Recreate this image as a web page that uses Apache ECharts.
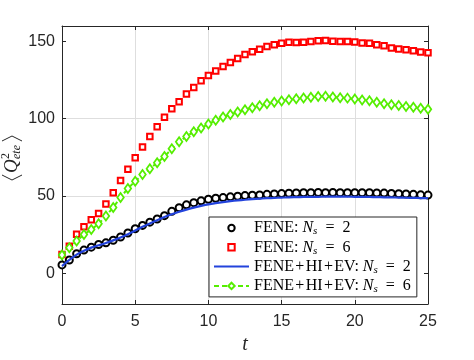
<!DOCTYPE html>
<html>
<head>
<meta charset="utf-8">
<script src="https://cdn.jsdelivr.net/npm/echarts@6/dist/echarts.min.js"></script>
<style>
html,body{margin:0;padding:0;background:#fff;}
#chart{width:474px;height:360px;}
</style>
</head>
<body>
<div id="chart"></div>
<script>
// time values
var tValues = [0,0.5,1,1.5,2,2.5,3,3.5,4,4.5,5,5.5,6,6.5,7,7.5,8,8.5,9,9.5,10,10.5,11,11.5,12,12.5,13,13.5,14,14.5,15,15.5,16,16.5,17,17.5,18,18.5,19,19.5,20,20.5,21,21.5,22,22.5,23,23.5,24,24.5,25];

// tick values
var xTicks = [0,5,10,15,20,25];
var yTicks = [0,50,100,150];

var seriesNames = ['FENE: N_s = 2','FENE: N_s = 6','FENE+HI+EV: N_s = 2','FENE+HI+EV: N_s = 6'];

var feneNs2 = [5.3,8.5,12.5,14.9,16.8,18.5,19.6,21.3,23.4,26,28.7,30.9,33,35,37.2,40,42.3,44.2,45.6,46.8,47.8,48.5,48.9,49.4,49.8,50.2,50.4,50.6,51,51.3,51.5,51.7,51.9,52,52.1,52.2,52.1,52.2,52.1,52.1,52.1,52,52,51.9,51.8,51.6,51.4,51.2,51,50.7,50.5];

var feneNs6 = [12,17.4,25.1,30,34.5,38.6,44.7,52.1,60,67.2,74.7,81.7,88.4,94.7,100.9,106.4,111,116,120.2,124.5,128,130.9,133.8,136.4,139,141.5,143.4,145,146.8,147.9,148.9,149.4,149.3,149.5,150,150.5,150.6,150.1,150,150,149.6,149,148.9,147.9,147.2,145.8,145.1,144.6,144,143.2,142.6];

var hiEvNs2 = [4.5,8.5,12,14.5,16.5,18,19.5,21.2,23,25.2,27.6,30,32.2,34.3,36.3,38.1,39.7,41.1,42.4,43.5,44.5,45.3,46,46.6,47.1,47.5,47.9,48.2,48.5,48.7,48.9,49.1,49.2,49.3,49.4,49.4,49.5,49.5,49.5,49.5,49.4,49.4,49.3,49.2,49.1,49,48.9,48.8,48.7,48.6,48.5];

var hiEvNs6 = [11.7,16.5,20.8,25,28.2,31.9,37,42.5,49,54.8,59.5,63.8,67.5,71.5,75.5,80.5,85,88.5,91.5,94,96.5,99,101,102.7,104.3,105.8,107.1,108.4,109.6,110.6,111.5,112.2,112.9,113.4,113.8,114.3,114.5,114,113.6,113.3,112.8,112.1,111.6,110.6,109.7,109,108.5,107.9,107.4,106.8,106.1];

function pairs(ys){ return tValues.map(function(t,i){ return [t, ys[i]]; }); }

var axisColor = '#262626';
var gridColor = '#dedede';
var tickFont = {fontFamily:'Liberation Sans', fontSize:16, color:axisColor};

var chart = echarts.init(document.getElementById('chart'), null, {renderer:'canvas'});

var option = {
  animation:false,
  backgroundColor:'#fff',
  grid:{left:62,right:46,top:26,bottom:53,containLabel:false},
  xAxis:[{
    type:'value', min:0, max:25, interval:5, position:'bottom',
    axisLine:{show:true,onZero:false,lineStyle:{color:axisColor,width:1}},
    axisTick:{show:true,inside:true,length:4,lineStyle:{color:axisColor}},
    axisLabel:Object.assign({margin:10},tickFont),
    splitLine:{show:true,showMinLine:false,showMaxLine:false,lineStyle:{color:gridColor,width:1}},
    name:'t', nameLocation:'middle', nameGap:31,
    nameTextStyle:{fontFamily:'Liberation Serif',fontStyle:'italic',fontSize:20,color:axisColor}
  },{
    type:'value', min:0, max:25, interval:5, position:'top',
    axisLine:{show:true,onZero:false,lineStyle:{color:axisColor,width:1}},
    axisTick:{show:true,inside:true,length:4,lineStyle:{color:axisColor}},
    axisLabel:{show:false}, splitLine:{show:false}
  }],
  yAxis:[{
    type:'value', min:-20, max:160, position:'left',
    axisLine:{show:true,onZero:false,lineStyle:{color:axisColor,width:1}},
    axisTick:{show:true,inside:true,length:4,customValues:yTicks,lineStyle:{color:axisColor}},
    axisLabel:Object.assign({margin:7,customValues:yTicks},tickFont),
    splitLine:{show:true,showMinLine:false,showMaxLine:false,lineStyle:{color:gridColor,width:1}}
  },{
    type:'value', min:-20, max:160, position:'right',
    axisLine:{show:true,onZero:false,lineStyle:{color:axisColor,width:1}},
    axisTick:{show:true,inside:true,length:4,customValues:yTicks,lineStyle:{color:axisColor}},
    axisLabel:{show:false,customValues:yTicks}, splitLine:{show:false}
  }],
  legend:{
    orient:'vertical', left:209, top:217,
    backgroundColor:'#fff', borderColor:axisColor, borderWidth:1,
    padding:[2,6,2,4], itemGap:1.3, itemWidth:35, itemHeight:8,
    data:[
      {name:seriesNames[0]},
      {name:seriesNames[1]},
      {name:seriesNames[2], itemStyle:{opacity:0}},
      {name:seriesNames[3]}
    ],
    formatter:function(name){
      var m = name.match(/^(.*): N_s = (\d)$/);
      var head = m[1].replace(/\+/g,'\u200A+\u200A');
      return '{r|' + head + ': }{i|N}{s|s}{r|\u2002=\u2002' + m[2] + '}';
    },
    textStyle:{
      color:'#000', fontFamily:'Liberation Serif', fontSize:16, lineHeight:18,
      rich:{
        r:{fontFamily:'Liberation Serif',fontSize:16,lineHeight:18,color:'#000'},
        i:{fontFamily:'Liberation Serif',fontStyle:'italic',fontSize:16,lineHeight:18,color:'#000'},
        s:{fontFamily:'Liberation Serif',fontStyle:'italic',fontSize:11,lineHeight:11,verticalAlign:'bottom',color:'#000'}
      }
    }
  },
  series:[{
    name:seriesNames[0], type:'line', data:pairs(feneNs2),
    lineStyle:{width:0,opacity:0},
    symbol:'circle', symbolSize:7, showSymbol:true,
    itemStyle:{color:'#fff',borderColor:'#000',borderWidth:2},
    z:2
  },{
    name:seriesNames[1], type:'line', data:pairs(feneNs6),
    lineStyle:{width:0,opacity:0},
    symbol:'rect', symbolSize:5.5, showSymbol:true,
    itemStyle:{color:'#fff',borderColor:'#ff0000',borderWidth:2},
    z:3
  },{
    name:seriesNames[2], type:'line', data:pairs(hiEvNs2),
    smooth:0.3, showSymbol:false, symbol:'none',
    lineStyle:{color:'#2343dc',width:2.2},
    itemStyle:{color:'#2343dc'},
    z:4
  },{
    name:seriesNames[3], type:'line', data:pairs(hiEvNs6),
    symbol:'diamond', symbolSize:[6.5,9], showSymbol:true,
    lineStyle:{color:'#55ee00',width:2,type:[5,3]},
    itemStyle:{color:'#fff',borderColor:'#55ee00',borderWidth:1.8},
    z:5
  }],
  graphic:[{
    type:'group', x:12, y:156, rotation:Math.PI/2,
    children:[
      {type:'polyline',shape:{points:[[-19,-10],[-24,0],[-19,10]]},style:{stroke:axisColor,lineWidth:1,fill:null}},
      {type:'text',x:-17,y:0,style:{text:'Q',fontFamily:'Liberation Serif',fontStyle:'italic',fontSize:19,fill:axisColor,verticalAlign:'middle',align:'left'}},
      {type:'text',x:-3,y:-6,style:{text:'2',fontFamily:'Liberation Serif',fontSize:12,fill:axisColor,verticalAlign:'middle',align:'left'}},
      {type:'text',x:-3,y:5,style:{text:'ete',fontFamily:'Liberation Serif',fontStyle:'italic',fontSize:12,fill:axisColor,verticalAlign:'middle',align:'left'}},
      {type:'polyline',shape:{points:[[15,-10],[20,0],[15,10]]},style:{stroke:axisColor,lineWidth:1,fill:null}}
    ]
  }]
};
chart.setOption(option);
</script>
</body>
</html>
